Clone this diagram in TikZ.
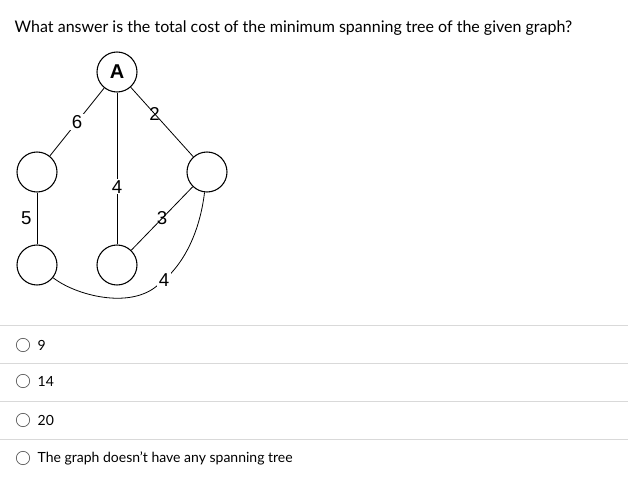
\documentclass[tikz,border=0pt]{standalone}
\usepackage{fontspec}
\setmainfont{Lato}
\newfontfamily\arialf{Liberation Sans}
\begin{document}
\begin{tikzpicture}[x=0.75pt,y=-0.75pt,
  vert/.style={draw,circle,minimum size=30pt,inner sep=0pt,line width=0.8pt},
  edge/.style={line width=0.6pt},
  wlab/.style={fill=white,inner sep=1pt,font=\arialf\fontsize{14pt}{16pt}\selectfont},
  radio/.style={draw=gray!70!black,circle,minimum size=10pt,inner sep=0pt,line width=0.5pt},
  opt/.style={anchor=west,font=\fontsize{10.5pt}{12pt}\selectfont},
  sep/.style={draw=gray!30,line width=0.6pt}]
\useasboundingbox (0,0) rectangle (628,491);
\node[anchor=west,font=\fontsize{12pt}{14pt}\selectfont] (q) at (10,28) {What answer is the total cost of the minimum spanning tree of the given graph?};
\node[vert,font=\arialf\bfseries\fontsize{15pt}{17pt}\selectfont] (A) at (117,72) {A};
\node[vert] (L) at (37,172) {};
\node[vert] (R) at (207,172) {};
\node[vert] (BL) at (37,265) {};
\node[vert] (BM) at (117,265) {};
\draw[edge] (A) -- node[wlab,pos=0.5]{6} (L);
\draw[edge] (A) -- node[wlab,pos=0.62]{4} (BM);
\draw[edge] (A) -- node[wlab,pos=0.38,fill=none]{2} (R);
\draw[edge] (L) -- node[wlab,pos=0.5,xshift=-8pt,fill=none]{5} (BL);
\draw[edge] (BM) -- node[wlab,pos=0.5,fill=none]{3} (R);
\draw[edge] (BL) .. controls (75,295) and (130,310) .. (158,285) .. controls (185,265) and (200,230) .. (R);
\node[wlab] (w4) at (164,280) {4};
\foreach \y/\t [count=\i] in {345/9,381/14,420/20,458/The graph doesn't have any spanning tree}{
  \node[radio] (r\i) at (23,\y) {};
  \node[opt] (o\i) at (33,\y) {\t};
}
\foreach \y in {325,363,401,439} \draw[sep] (0,\y) -- (628,\y);
\end{tikzpicture}
\end{document}
